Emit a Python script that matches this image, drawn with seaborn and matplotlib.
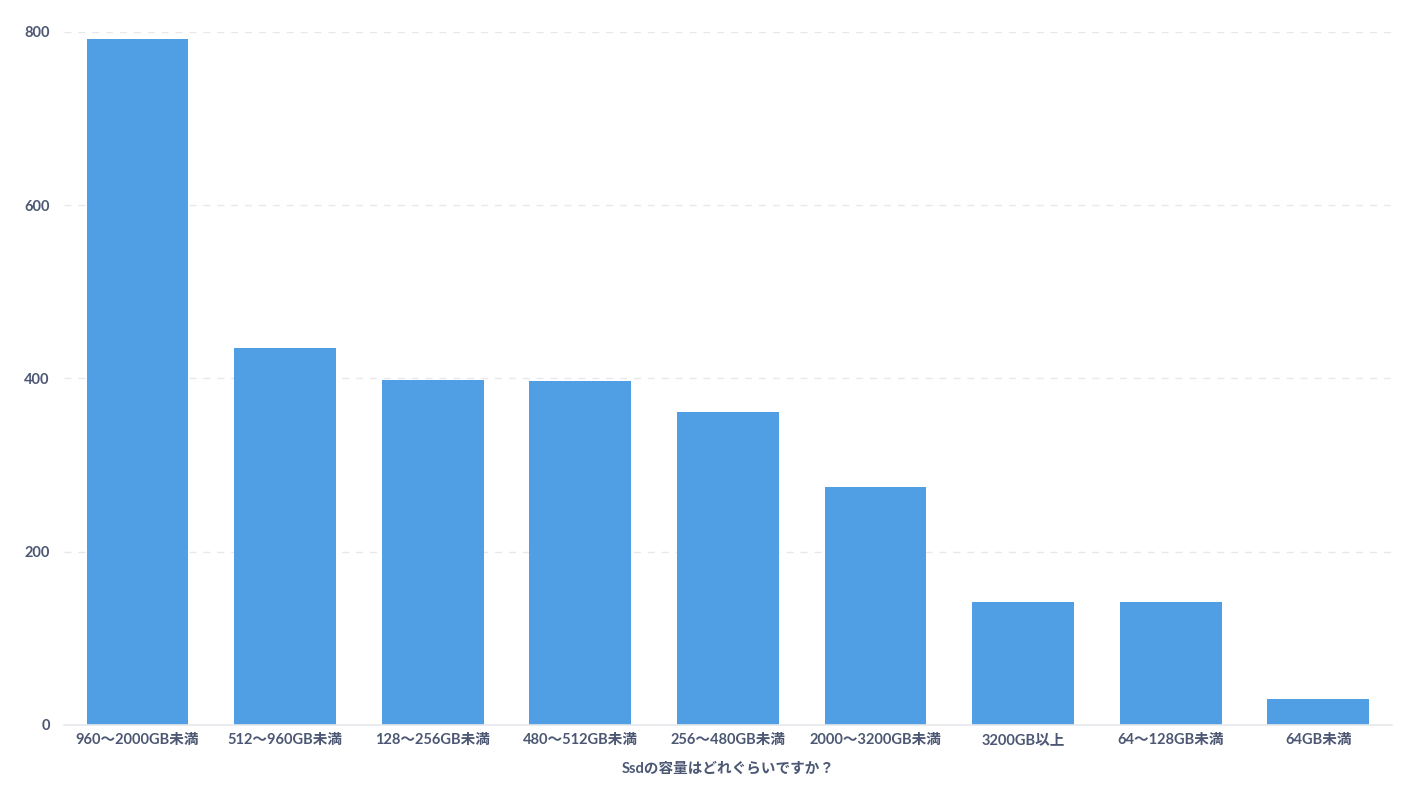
import matplotlib
matplotlib.use('Agg')
import matplotlib.pyplot as plt
import seaborn as sns
import pandas as pd

# Data
categories = ['960〜2000GB未満', '512〜960GB未満', '128〜256GB未満', '480〜512GB未満',
              '256〜480GB未満', '2000〜3200GB未満', '3200GB以上', '64〜128GB未満', '64GB未満']
counts = [792, 435, 398, 397, 361, 275, 142, 142, 30]
y_ticks = [0, 200, 400, 600, 800]
x_label = 'Ssdの容量はどれぐらいですか？'

BAR_COLOR = '#509EE3'
TEXT_COLOR = '#4C5773'
FONTS = ['Lato', 'Noto Sans CJK JP', 'DejaVu Sans']

sns.set_style('white')
plt.rcParams['font.family'] = FONTS

df = pd.DataFrame({'category': categories, 'count': counts})

fig = plt.figure(figsize=(14.19, 7.96), dpi=100)
ax = fig.add_axes([0.0449, 0.0892, 0.9362, 0.8706])

sns.barplot(data=df, x='category', y='count', color=BAR_COLOR, width=0.69,
            saturation=1, linewidth=0, ax=ax)

ax.set_xlim(-0.5, len(categories) - 0.5)
ax.set_ylim(0, 800)
ax.set_yticks(y_ticks)
ax.yaxis.grid(True, linestyle=(0, (5, 5)), color='#E6E8EB', linewidth=1)
ax.set_axisbelow(True)

for side in ['top', 'right', 'left']:
    ax.spines[side].set_visible(False)
ax.spines['bottom'].set_color('#E6E8EB')
ax.spines['bottom'].set_linewidth(1.2)

ax.tick_params(axis='both', length=0, colors=TEXT_COLOR, labelsize=10.5)
ax.tick_params(axis='x', pad=6)
ax.tick_params(axis='y', pad=10)
for lbl in ax.get_xticklabels() + ax.get_yticklabels():
    lbl.set_fontweight('bold')

ax.set_ylabel('')
ax.set_xlabel(x_label, color=TEXT_COLOR, fontsize=10.5, fontweight='bold', labelpad=10)

fig.savefig('out.png', dpi=100)
